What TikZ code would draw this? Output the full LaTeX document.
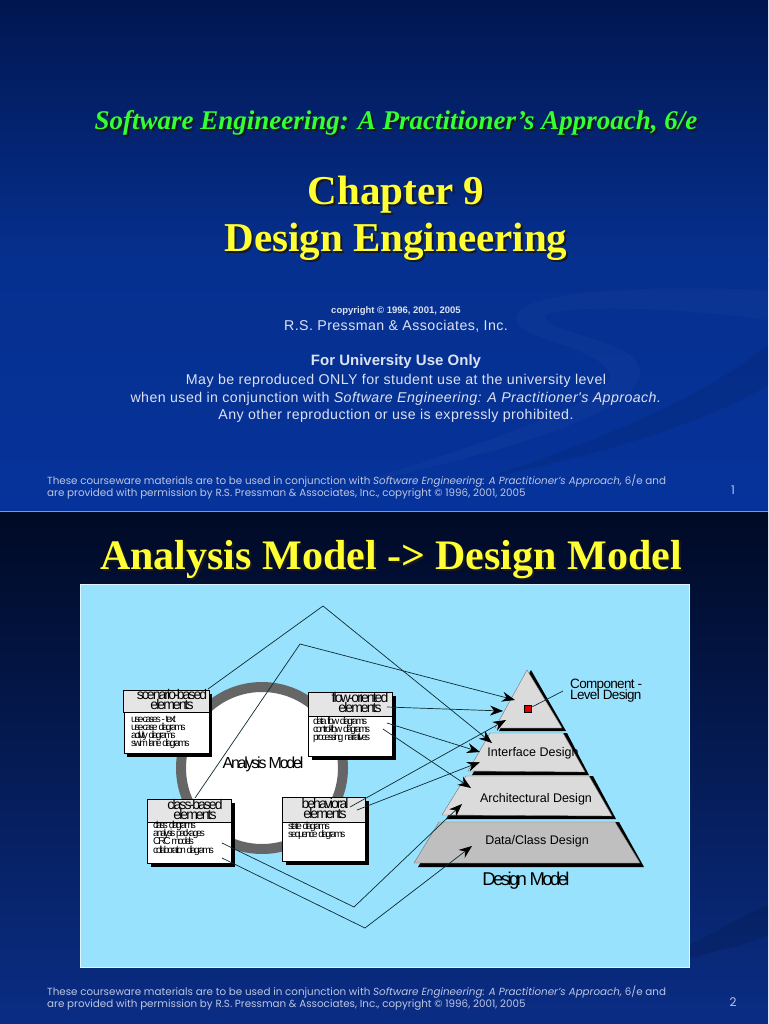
\documentclass[tikz,border=0pt]{standalone}
\usepackage{fontspec}
\usetikzlibrary{arrows.meta,calc}
\setmainfont{Liberation Serif}
\setsansfont{Liberation Sans}
\newfontfamily\foot{Poppins}
\newfontfamily\tightf[LetterSpace=-14]{Liberation Sans}
\newfontfamily\tighterf[LetterSpace=-20]{Liberation Sans}
\newfontfamily\midf[LetterSpace=-5]{Liberation Sans}
\newfontfamily\wideff[LetterSpace=3]{Liberation Sans}
\definecolor{panelblue}{HTML}{99E2FD}
\definecolor{ttlyellow}{HTML}{FFFF33}
\definecolor{ttlgreen}{HTML}{33FF33}
\definecolor{palewhite}{HTML}{DCE2F2}
\definecolor{footc}{HTML}{BCC6E4}
\definecolor{s1a}{HTML}{011650}
\definecolor{s1b}{HTML}{06308F}
\definecolor{s1c}{HTML}{06339B}
\definecolor{s2a}{HTML}{000A26}
\definecolor{s2b}{HTML}{0A2D85}
\definecolor{sepc}{HTML}{7F97CC}
\definecolor{connc}{HTML}{0B2B33}
\newcommand{\fs}[1]{\fontsize{#1pt}{#1pt}\selectfont}
\newcommand{\fsb}[2]{\fontsize{#1pt}{#2pt}\selectfont\lineskiplimit=-50pt\relax}
\newcommand{\shd}[2]{\leavevmode\rlap{\kern2pt\raisebox{-2pt}{\color{black!90}#2}}{\color{#1}#2}}
\tikzset{
 x=1pt,y=-1pt,
 title/.style={inner sep=0,font=\rmfamily\bfseries},
 info/.style={inner sep=0,text=palewhite,font=\wideff},
 footer/.style={inner sep=0,anchor=west,align=left,text=footc,font=\foot\fsb{10.33}{12}},
 pagenum/.style={inner sep=0,text=footc,font=\foot\fs{12}},
 ukbox/.style={draw=black,line width=.8pt,fill=white,inner sep=0},
 head/.style={inner sep=0,align=center,font=\tightf\fsb{14}{10}},
 items/.style={inner sep=0,anchor=north west,align=left,font=\tighterf\fsb{10}{8.2}},
 tiertext/.style={inner sep=0,font=\sffamily\fs{12.5}},
 conn/.style={line width=.7pt,draw=connc},
 arr/.style={conn,-{Stealth[length=13pt,width=10pt,color=black]}},
}
\begin{document}
\begin{tikzpicture}
\useasboundingbox (0,0) rectangle (768,1024);
% slide backgrounds
\path[top color=s1a,bottom color=s1b] (0,0) rectangle (768,260);
\path[top color=s1b,bottom color=s1c] (0,260) rectangle (768,511);
\path[top color=s2a,bottom color=s2b] (0,512) rectangle (768,1024);
\fill[sepc] (0,511) rectangle (768,512.2);
% faint swooshes
\fill[white,opacity=.025] (768,290) .. controls (640,285) and (520,290) .. (516,318) .. controls (515,340) and (600,345) .. (610,375) .. controls (615,400) and (470,450) .. (330,490) .. controls (520,450) and (640,410) .. (640,372) .. controls (640,340) and (550,335) .. (545,318) .. controls (545,305) and (660,305) .. (768,320) -- cycle;
\fill[black,opacity=.08] (768,345) .. controls (700,400) and (600,440) .. (480,480) .. controls (620,450) and (710,420) .. (768,385) -- cycle;
\fill[black,opacity=.10] (689,945) .. controls (720,930) and (745,915) .. (768,905) -- (768,935) .. controls (745,945) and (720,950) .. (689,958) -- cycle;
% slide 1 texts
\node[title,font=\rmfamily\bfseries\itshape\fs{27}] (subt) at (396,124) {\shd{ttlgreen}{Software Engineering: A Practitioner’s Approach, 6/e}};
\node[title,font=\rmfamily\bfseries\fs{41}] (chap) at (396,196) {\shd{ttlyellow}{Chapter 9}};
\node[title,font=\rmfamily\bfseries\fs{41}] (dese) at (396,243) {\shd{ttlyellow}{Design Engineering}};
\node[inner sep=0,text=palewhite,font=\sffamily\bfseries\fs{9.5}] (copyr) at (396,311) {copyright © 1996, 2001, 2005};
\node[info,font=\wideff\fs{14.2}] (rsp) at (396,326) {R.S. Pressman \& Associates, Inc.};
\node[inner sep=0,text=palewhite,font=\sffamily\bfseries\fs{15}] (univ) at (396,362) {For University Use Only};
\node[info,font=\wideff\fs{14.2}] (may) at (396,381) {May be reproduced ONLY for student use at the university level};
\node[info,font=\wideff\fs{14.2}] (when) at (396,399) {when used in conjunction with \textit{Software Engineering: A Practitioner's Approach.}};
\node[info,font=\wideff\fs{14.2}] (any) at (396,416) {Any other reproduction or use is expressly prohibited.};
\node[footer] (foot1) at (47,487) {These courseware materials are to be used in conjunction with \textit{Software Engineering: A Practitioner’s Approach,} 6/e and\\are provided with permission by R.S. Pressman \& Associates, Inc., copyright © 1996, 2001, 2005};
\node[pagenum] (pg1) at (733,490) {1};
% slide 2 title
\node[title,font=\rmfamily\bfseries\fs{42}] (amdm) at (391,561) {\shd{ttlyellow}{Analysis Model -> Design Model}};
% panel
\filldraw[fill=panelblue,draw=white!70!panelblue,line width=.8pt] (80,584) rectangle (689,967);
% ring
\filldraw[fill=white,draw=black!60,line width=10pt] (262,768) circle (81);
\node[inner sep=0,font=\tightf\fs{16}] (am) at (263,764) {Analysis Model};
% boxes
\fill[black] (127,694) rectangle (212,757);
\node[ukbox,anchor=north west,minimum width=85pt,minimum height=63pt] (scen) at (123.5,690) {};
\filldraw[fill=black!10,draw=black,line width=.8pt] (scen.north west) rectangle (scen.east |- 0,712);
\fill[black] (312,696) rectangle (396,760);
\node[ukbox,anchor=north west,minimum width=84pt,minimum height=64pt] (flow) at (308,692) {};
\filldraw[fill=black!10,draw=black,line width=.8pt] (flow.north west) rectangle (flow.east |- 0,716);
\fill[black] (151,803) rectangle (235,867);
\node[ukbox,anchor=north west,minimum width=84pt,minimum height=64pt] (clas) at (147,799) {};
\filldraw[fill=black!10,draw=black,line width=.8pt] (clas.north west) rectangle (clas.east |- 0,822);
\fill[black] (286,801) rectangle (369,865);
\node[ukbox,anchor=north west,minimum width=83pt,minimum height=64pt] (behv) at (282,797) {};
\filldraw[fill=black!10,draw=black,line width=.8pt] (behv.north west) rectangle (behv.east |- 0,822);
% box texts
\node[head] (h1) at (172,699.5) {scenario-based\\elements};
\node[head] (h2) at (360,702.5) {flow-oriented\\elements};
\node[head] (h3) at (195,809) {class-based\\elements};
\node[head] (h4) at (325,808) {behavioral\\elements};
\node[items] (i1) at (131,715.5) {use-cases - text\\use-case diagrams\\activity diagrams\\swim lane diagrams};
\node[items] (i2) at (313,717) {data flow diagrams\\control-flow diagrams\\processing narratives};
\node[items] (i3) at (153,821) {class diagrams\\analysis packages\\CRC models\\collaboration diagrams};
\node[items] (i4) at (288,822) {state diagrams\\sequence diagrams};
% pyramid
\fill[black] (531,670) -- (566,731) -- (499,731) -- cycle;
\filldraw[fill=black!14,draw=black!55,line width=.4pt] (527,670) -- (562,728) -- (495,728) -- cycle;
\fill[black] (494,736) -- (567,733) -- (589,775) -- (472,775) -- cycle;
\filldraw[fill=black!14,draw=black!55,line width=.4pt] (490,733) -- (563,733) -- (585,772) -- (468,771) -- cycle;
\fill[black] (470,779) -- (593,776) -- (616,819) -- (446,819) -- cycle;
\filldraw[fill=black!14,draw=black!55,line width=.4pt] (466,776) -- (589,776) -- (612,816) -- (442,815) -- cycle;
\fill[black] (443,825) -- (619,822) -- (644,867) -- (418,867) -- cycle;
\filldraw[fill=black!25,draw=black!55,line width=.4pt] (439,822) -- (615,822) -- (640,863) -- (414,863) -- cycle;
\node[tiertext] (t2) at (533,753) {Interface Design};
\node[tiertext] (t3) at (536,799) {Architectural Design};
\node[tiertext] (t4) at (537,841) {Data/Class Design};
\node[inner sep=0,font=\tightf\fs{18.5}] (dm) at (526,881) {Design Model};
\node[inner sep=0,anchor=west,align=left,font=\midf\fsb{13.5}{11}] (comp) at (570,691) {Component -\\Level Design};
\node[draw=black,fill=red!85!black,line width=1.8pt,minimum size=7pt,inner sep=0] (redsq) at (528,709) {};
% connector anchors
\coordinate (a1) at (323,606);
\coordinate (a2) at (300,644);
\coordinate (a3) at (354,907);
\coordinate (a4) at (365,928);
\coordinate (s1) at (208,689);
\coordinate (s2) at (195,798);
\coordinate (s3) at (222,843);
\coordinate (s4) at (222,858);
\coordinate (f1) at (387,707);
\coordinate (f2) at (387,723);
\coordinate (f3) at (383,729);
\coordinate (b1) at (350,807);
\coordinate (b2) at (357,810);
\coordinate (e1) at (515,700);
\coordinate (e2) at (503,711);
\coordinate (e3) at (506,720);
\coordinate (e4) at (492,743);
\coordinate (e5) at (480,752);
\coordinate (e6) at (480,762);
\coordinate (e7) at (471,788);
\coordinate (e8) at (462,804);
\coordinate (e9) at (472,846);
\coordinate (c1) at (563,691);
% connectors
\draw[arr] (s1) -- (a1) -- (e4);
\draw[arr] (s2) -- (a2) -- (e1);
\draw[arr] (f1) -- (e2);
\draw[arr] (f2) -- (e5);
\draw[arr] (f3) -- (e7);
\draw[arr] (b1) -- (e3);
\draw[arr] (b2) -- (e6);
\draw[arr] (s3) -- (a3) -- (e8);
\draw[arr] (s4) -- (a4) -- (e9);
\draw[conn] (c1) -- (redsq);
% footer 2
\node[footer] (foot2) at (47,998.5) {These courseware materials are to be used in conjunction with \textit{Software Engineering: A Practitioner’s Approach,} 6/e and\\are provided with permission by R.S. Pressman \& Associates, Inc., copyright © 1996, 2001, 2005};
\node[pagenum] (pg2) at (733,1002) {2};
\end{tikzpicture}
\end{document}
